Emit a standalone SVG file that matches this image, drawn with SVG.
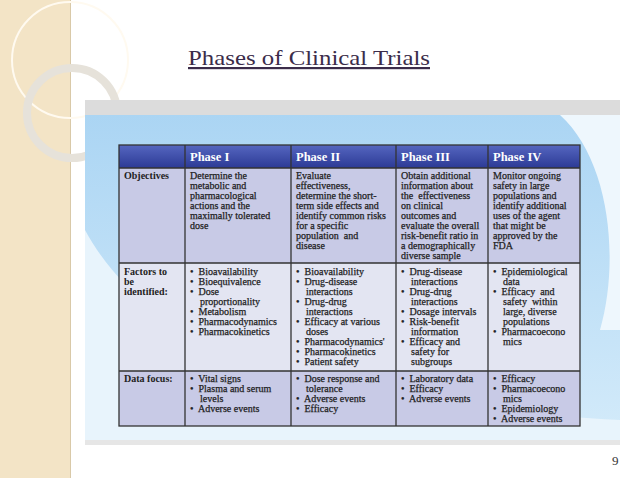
<svg xmlns="http://www.w3.org/2000/svg" width="638" height="478" viewBox="0 0 638 478">
<defs>
<linearGradient id="hd" x1="0" y1="0" x2="0" y2="1"><stop offset="0" stop-color="#5566c0"/><stop offset="1" stop-color="#2c3a95"/></linearGradient>
<linearGradient id="bg" x1="0" y1="0" x2="0" y2="1"><stop offset="0" stop-color="#a9d4f3"/><stop offset="1" stop-color="#d4ebfa"/></linearGradient>
<style>
.t{font-family:"Liberation Serif",serif;font-size:10px;fill:#222;stroke:#222;stroke-width:0.25;white-space:pre}
.b{font-weight:bold;stroke:none}
.h{font-family:"Liberation Serif",serif;font-size:12.5px;fill:#fff;font-weight:bold}
.g{stroke:#333;stroke-width:1.3;fill:none}
</style>
</defs>
<rect width="638" height="478" fill="#fff"/>
<rect width="70" height="478" fill="#f3e4c6"/>
<line x1="70.5" y1="0" x2="70.5" y2="478" stroke="#d9c9a8"/>
<circle cx="70" cy="60" r="58" fill="none" stroke="#fffaf0" stroke-width="2"/>
<circle cx="72" cy="113" r="45" fill="none" stroke="#e6e2da" stroke-width="8"/>
<text x="188" y="65" font-family="Liberation Serif,serif" font-size="22" fill="#3b2c4a" text-decoration="underline" textLength="242" lengthAdjust="spacingAndGlyphs">Phases of Clinical Trials</text>
<rect x="85" y="100" width="535" height="345" fill="url(#bg)"/>
<rect x="85" y="100" width="535" height="15" fill="#dcdcdc"/>
<path d="M85 230 C140 330 260 400 620 420 L620 445 L85 445 Z" fill="#e8f4fc"/>
<path d="M560 115 C610 160 620 260 600 330 L620 330 L620 115 Z" fill="#eef7fd"/>
<rect x="85" y="440" width="535" height="5" fill="#e6e6e6"/>
<g id="table">
<rect x="119" y="145" width="461" height="23" fill="url(#hd)"/>
<rect x="119" y="168" width="461" height="95" fill="#c8cae6"/>
<rect x="119" y="263" width="461" height="108" fill="#e3e5f2"/>
<rect x="119" y="371" width="461" height="55" fill="#c8cae6"/>
<rect x="119" y="145" width="461" height="281" class="g"/>
<path class="g" d="M185 145V426M291 145V426M396 145V426M488 145V426M119 168H580M119 263H580M119 371H580"/>
</g>
<g id="header">
<text class="h" x="190" y="161">Phase I</text>
<text class="h" x="296" y="161">Phase II</text>
<text class="h" x="401" y="161">Phase III</text>
<text class="h" x="493" y="161">Phase IV</text>
</g>
<g id="rowlabels">
<text class="t b" x="124" y="179">Objectives</text>
<text class="t b" x="124" y="275">Factors to</text>
<text class="t b" x="124" y="285">be</text>
<text class="t b" x="124" y="295">identified:</text>
<text class="t b" x="124" y="382">Data focus:</text>
</g>
<g id="objectives">
<text class="t" x="190" y="179">Determine the<tspan x="190" dy="10">metabolic and</tspan><tspan x="190" dy="10">pharmacological</tspan><tspan x="190" dy="10">actions and the</tspan><tspan x="190" dy="10">maximally tolerated</tspan><tspan x="190" dy="10">dose</tspan></text>
<text class="t" x="296" y="179">Evaluate<tspan x="296" dy="10">effectiveness,</tspan><tspan x="296" dy="10">determine the short-</tspan><tspan x="296" dy="10">term side effects and</tspan><tspan x="296" dy="10">identify common risks</tspan><tspan x="296" dy="10">for a specific</tspan><tspan x="296" dy="10">population  and</tspan><tspan x="296" dy="10">disease</tspan></text>
<text class="t" x="401" y="179">Obtain additional<tspan x="401" dy="10">information about</tspan><tspan x="401" dy="10">the  effectiveness</tspan><tspan x="401" dy="10">on clinical</tspan><tspan x="401" dy="10">outcomes and</tspan><tspan x="401" dy="10">evaluate the overall</tspan><tspan x="401" dy="10">risk-benefit ratio in</tspan><tspan x="401" dy="10">a demographically</tspan><tspan x="401" dy="10">diverse sample</tspan></text>
<text class="t" x="493" y="179">Monitor ongoing<tspan x="493" dy="10">safety in large</tspan><tspan x="493" dy="10">populations and</tspan><tspan x="493" dy="10">identify additional</tspan><tspan x="493" dy="10">uses of the agent</tspan><tspan x="493" dy="10">that might be</tspan><tspan x="493" dy="10">approved by the</tspan><tspan x="493" dy="10">FDA</tspan></text>
</g>
<g id="factors">
<text class="t" x="190" y="275">•  Bioavailability<tspan x="190" dy="10">•  Bioequivalence</tspan><tspan x="190" dy="10">•  Dose</tspan><tspan x="200" dy="10">proportionality</tspan><tspan x="190" dy="10">•  Metabolism</tspan><tspan x="190" dy="10">•  Pharmacodynamics</tspan><tspan x="190" dy="10">•  Pharmacokinetics</tspan></text>
<text class="t" x="296" y="275">•  Bioavailability<tspan x="296" dy="10">•  Drug-disease</tspan><tspan x="306" dy="10">interactions</tspan><tspan x="296" dy="10">•  Drug-drug</tspan><tspan x="306" dy="10">interactions</tspan><tspan x="296" dy="10">•  Efficacy at various</tspan><tspan x="306" dy="10">doses</tspan><tspan x="296" dy="10">•  Pharmacodynamics'</tspan><tspan x="296" dy="10">•  Pharmacokinetics</tspan><tspan x="296" dy="10">•  Patient safety</tspan></text>
<text class="t" x="401" y="275">•  Drug-disease<tspan x="411" dy="10">interactions</tspan><tspan x="401" dy="10">•  Drug-drug</tspan><tspan x="411" dy="10">interactions</tspan><tspan x="401" dy="10">•  Dosage intervals</tspan><tspan x="401" dy="10">•  Risk-benefit</tspan><tspan x="411" dy="10">information</tspan><tspan x="401" dy="10">•  Efficacy and</tspan><tspan x="411" dy="10">safety for</tspan><tspan x="411" dy="10">subgroups</tspan></text>
<text class="t" x="493" y="275">•  Epidemiological<tspan x="503" dy="10">data</tspan><tspan x="493" dy="10">•  Efficacy  and</tspan><tspan x="503" dy="10">safety  within</tspan><tspan x="503" dy="10">large, diverse</tspan><tspan x="503" dy="10">populations</tspan><tspan x="493" dy="10">•  Pharmacoecono</tspan><tspan x="503" dy="10">mics</tspan></text>
</g>
<g id="datafocus">
<text class="t" x="190" y="382">•  Vital signs<tspan x="190" dy="10">•  Plasma and serum</tspan><tspan x="200" dy="10">levels</tspan><tspan x="190" dy="10">•  Adverse events</tspan></text>
<text class="t" x="296" y="382">•  Dose response and<tspan x="306" dy="10">tolerance</tspan><tspan x="296" dy="10">•  Adverse events</tspan><tspan x="296" dy="10">•  Efficacy</tspan></text>
<text class="t" x="401" y="382">•  Laboratory data<tspan x="401" dy="10">•  Efficacy</tspan><tspan x="401" dy="10">•  Adverse events</tspan></text>
<text class="t" x="493" y="382">•  Efficacy<tspan x="493" dy="10">•  Pharmacoecono</tspan><tspan x="503" dy="10">mics</tspan><tspan x="493" dy="10">•  Epidemiology</tspan><tspan x="493" dy="10">•  Adverse events</tspan></text>
</g>
<text x="612" y="465" font-family="Liberation Serif,serif" font-size="13" fill="#333">9</text>
</svg>
